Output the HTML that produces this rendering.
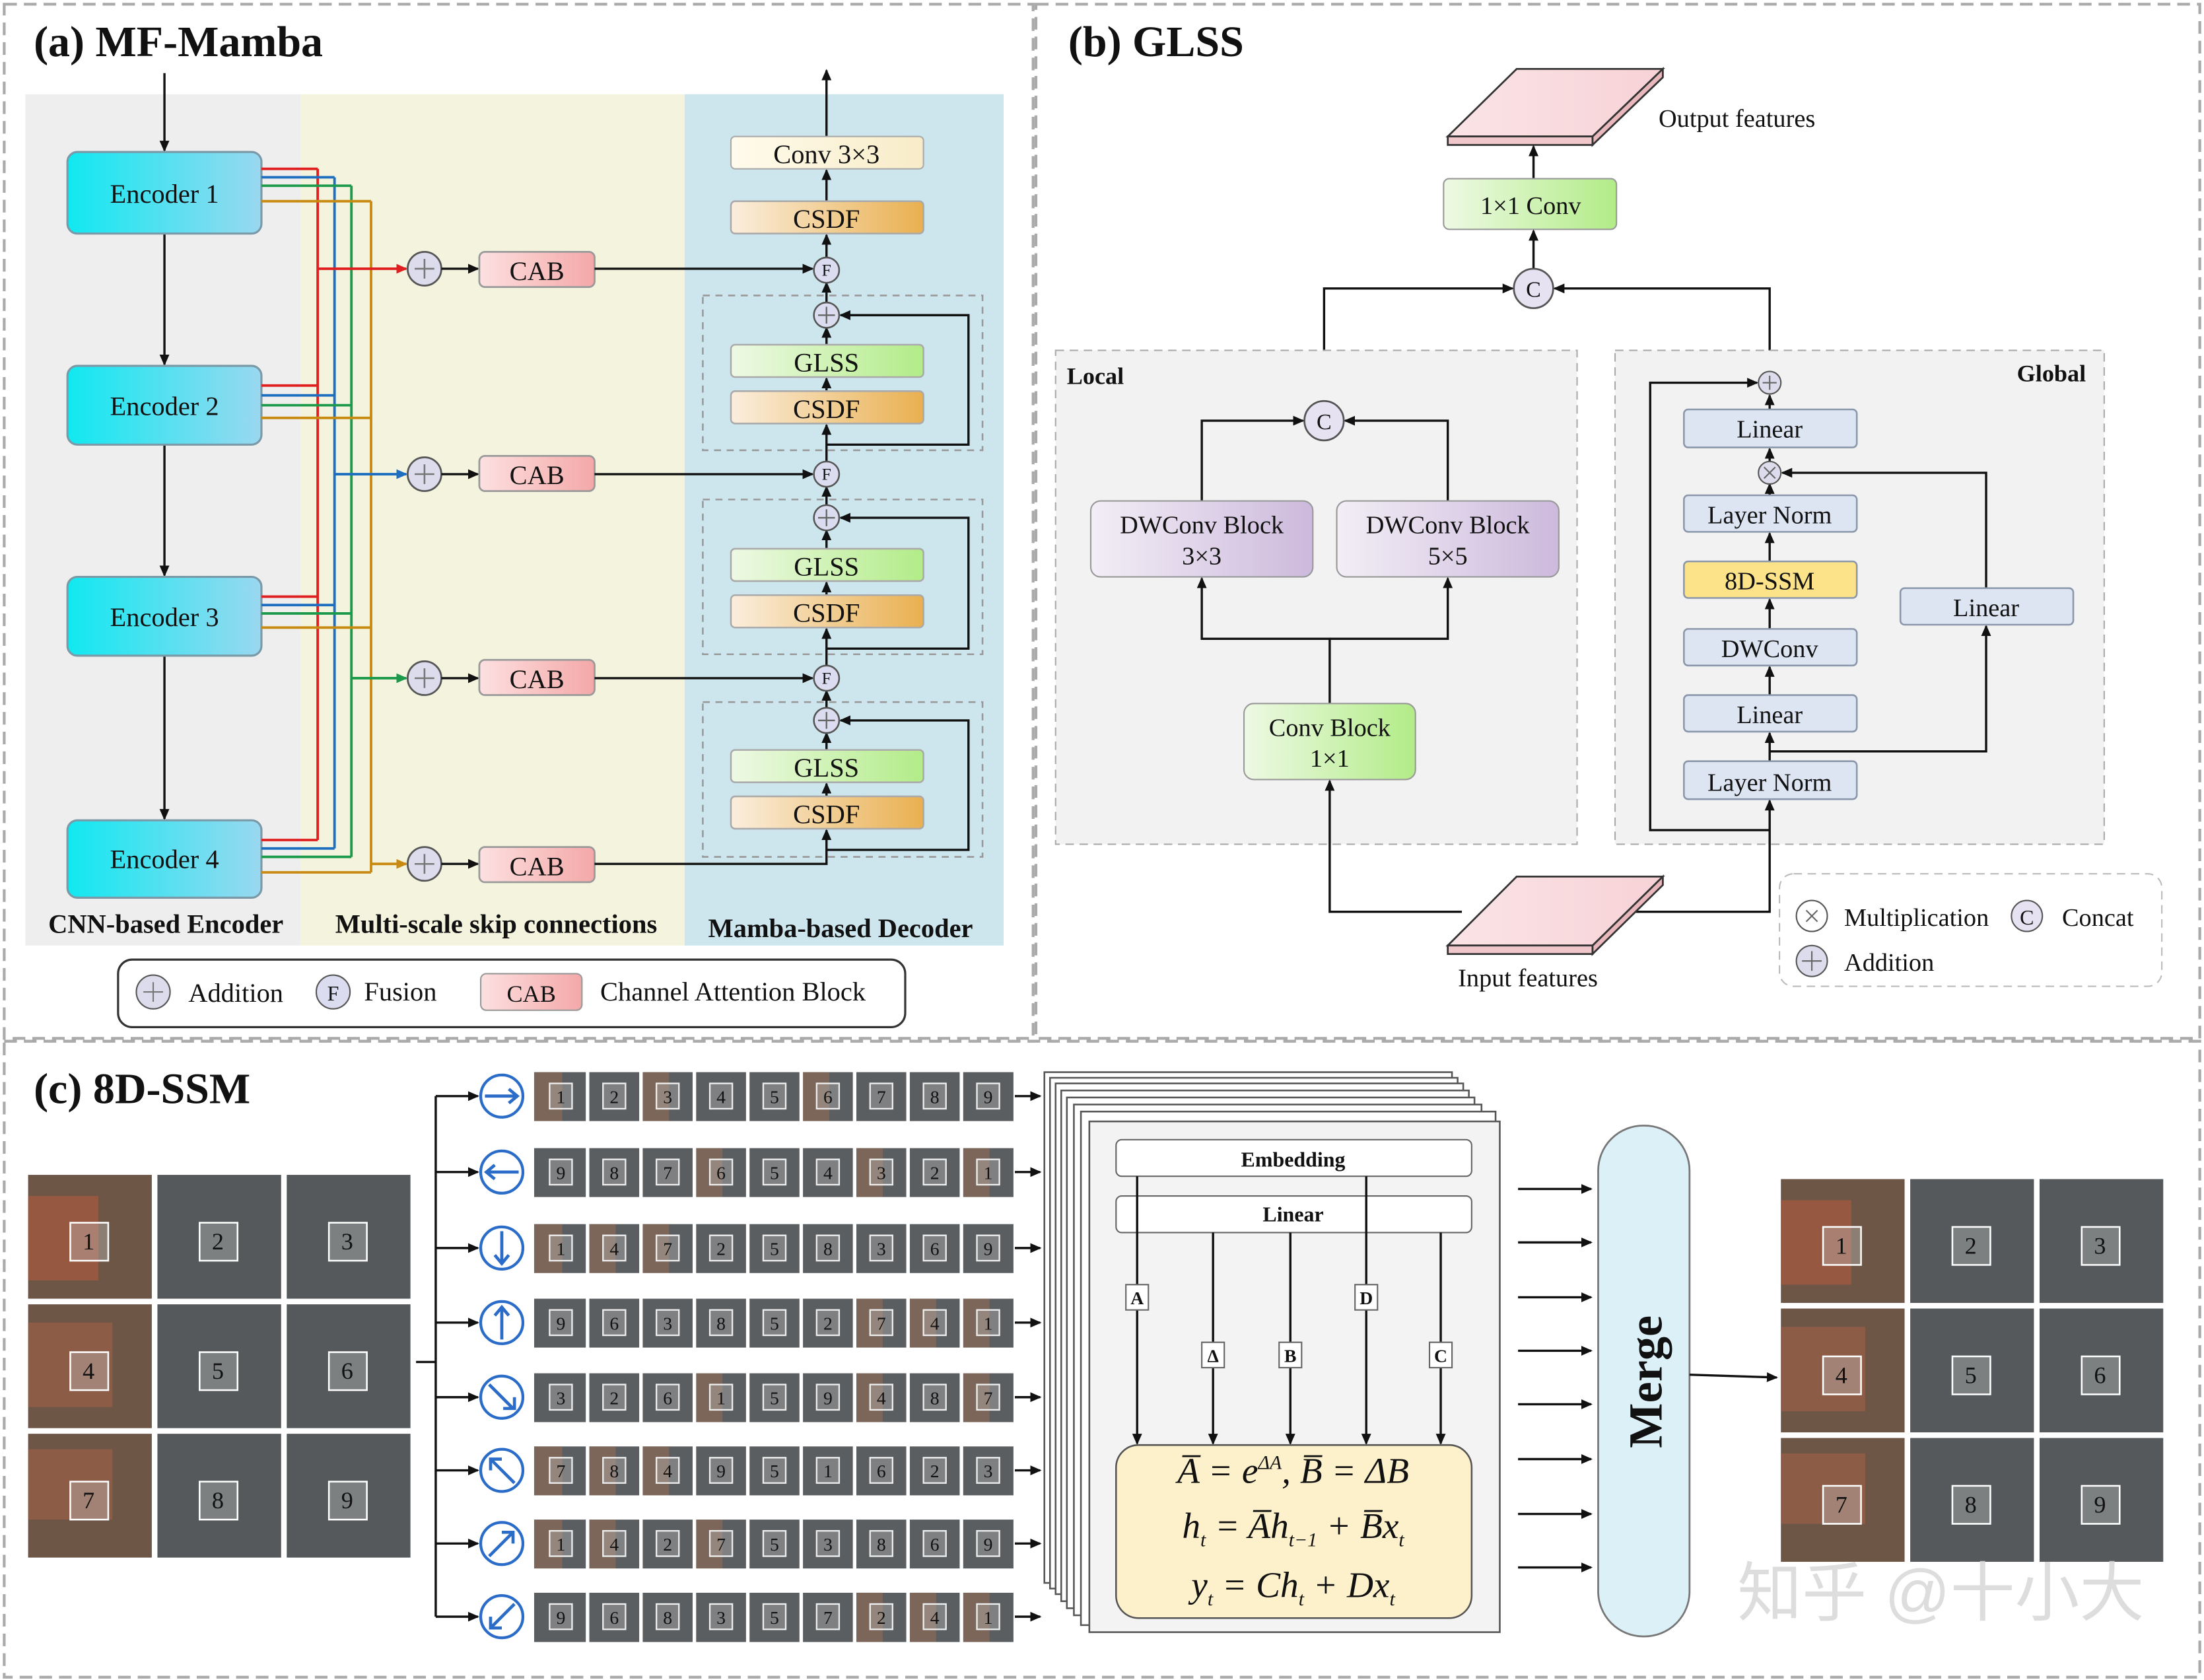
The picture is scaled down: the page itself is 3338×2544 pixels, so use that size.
<!DOCTYPE html>
<html><head><meta charset="utf-8"><style>
html,body{margin:0;padding:0;background:#fff}
svg{display:block}
text{font-family:"Liberation Serif",serif;fill:#111}
.b{font-weight:bold}
.tb{fill:#6e5647}.tg{fill:#55595b}
.nb{fill:rgba(200,200,200,.35);stroke:#fff;stroke-width:1.2}
.ln{stroke:#111;stroke-width:1.6;fill:none}
</style></head><body>
<svg width="3338" height="2544" viewBox="0 0 1568 1194" preserveAspectRatio="none" xmlns="http://www.w3.org/2000/svg">
<defs>
<marker id="ar" markerWidth="8" markerHeight="8" refX="7" refY="4" orient="auto" markerUnits="userSpaceOnUse"><path d="M0,0.5 L8,4 L0,7.5z" fill="#111"/></marker>
<marker id="arR" markerWidth="8" markerHeight="8" refX="7" refY="4" orient="auto" markerUnits="userSpaceOnUse"><path d="M0,0.5 L8,4 L0,7.5z" fill="#e02020"/></marker>
<marker id="arB" markerWidth="8" markerHeight="8" refX="7" refY="4" orient="auto" markerUnits="userSpaceOnUse"><path d="M0,0.5 L8,4 L0,7.5z" fill="#1f6fc0"/></marker>
<marker id="arG" markerWidth="8" markerHeight="8" refX="7" refY="4" orient="auto" markerUnits="userSpaceOnUse"><path d="M0,0.5 L8,4 L0,7.5z" fill="#1a9a4a"/></marker>
<marker id="arO" markerWidth="8" markerHeight="8" refX="7" refY="4" orient="auto" markerUnits="userSpaceOnUse"><path d="M0,0.5 L8,4 L0,7.5z" fill="#c88a10"/></marker>
<linearGradient id="enc" x1="0" x2="1"><stop offset="0" stop-color="#10e8f0"/><stop offset="1" stop-color="#9ad8f0"/></linearGradient>
<linearGradient id="cab" x1="0" x2="1"><stop offset="0" stop-color="#fde0e0"/><stop offset="1" stop-color="#f4a8a8"/></linearGradient>
<linearGradient id="csdf" x1="0" x2="1"><stop offset="0" stop-color="#fbeedd"/><stop offset="1" stop-color="#e9b050"/></linearGradient>
<linearGradient id="glss" x1="0" x2="1"><stop offset="0" stop-color="#eef9e4"/><stop offset="1" stop-color="#b2ec88"/></linearGradient>
<linearGradient id="conv" x1="0" x2="1"><stop offset="0" stop-color="#fffbec"/><stop offset="1" stop-color="#f8ecc8"/></linearGradient>
<linearGradient id="dw" x1="0" x2="1"><stop offset="0" stop-color="#f2eef6"/><stop offset="1" stop-color="#cdb9dc"/></linearGradient>
<linearGradient id="slab" x1="0" x2="1"><stop offset="0" stop-color="#fbe4e6"/><stop offset="1" stop-color="#f7d2d6"/></linearGradient>
<g id="nrow" fill="rgba(210,210,210,.3)" stroke="#eee" stroke-width="1.1">
<rect x="391" y="0" width="16" height="18"/><rect x="429" y="0" width="16" height="18"/><rect x="467" y="0" width="16" height="18"/>
<rect x="505" y="0" width="16" height="18"/><rect x="543" y="0" width="16" height="18"/><rect x="581" y="0" width="16" height="18"/>
<rect x="619" y="0" width="16" height="18"/><rect x="657" y="0" width="16" height="18"/><rect x="695" y="0" width="16" height="18"/>
</g>
</defs>

<!-- panel borders -->
<g fill="none" stroke="#aaa" stroke-width="2" stroke-dasharray="9,5">
<rect x="3" y="3" width="732" height="735"/>
<rect x="737" y="3" width="828" height="735"/>
<rect x="3" y="740" width="1562" height="452"/>
</g>

<!-- ===== (a) ===== -->
<text x="24" y="40" font-size="31" class="b">(a) MF-Mamba</text>
<rect x="18" y="67" width="196" height="605" fill="#eeeeee"/>
<rect x="214" y="67" width="273" height="605" fill="#f4f4de"/>
<rect x="487" y="67" width="227" height="605" fill="#cde6ee"/>

<line x1="117" y1="52" x2="117" y2="107" class="ln" marker-end="url(#ar)"/>
<line x1="117" y1="166" x2="117" y2="259" class="ln" marker-end="url(#ar)"/>
<line x1="117" y1="316" x2="117" y2="409" class="ln" marker-end="url(#ar)"/>
<line x1="117" y1="466" x2="117" y2="582" class="ln" marker-end="url(#ar)"/>
<g stroke="#7a9aa8" stroke-width="1.5" fill="url(#enc)">
<rect x="48" y="108" width="138" height="58" rx="7"/>
<rect x="48" y="260" width="138" height="56" rx="7"/>
<rect x="48" y="410" width="138" height="56" rx="7"/>
<rect x="48" y="583" width="138" height="55" rx="7"/>
</g>
<g font-size="19" text-anchor="middle">
<text x="117" y="144">Encoder 1</text><text x="117" y="295">Encoder 2</text>
<text x="117" y="445">Encoder 3</text><text x="117" y="617">Encoder 4</text>
</g>
<g fill="none" stroke-width="1.8">
<path stroke="#e02020" d="M186,120H226M186,274H226M186,424H226M186,597H226M226,120V597"/>
<path stroke="#1f6fc0" d="M186,126H238M186,281H238M186,430H238M186,603H238M238,126V603"/>
<path stroke="#1a9a4a" d="M186,132H250M186,288H250M186,436H250M186,609H250M250,132V609"/>
<path stroke="#c88a10" d="M186,143H264M186,297H264M186,446H264M186,620H264M264,143V620"/>
<line x1="226" y1="191" x2="289" y2="191" stroke="#e02020" marker-end="url(#arR)"/>
<line x1="238" y1="337" x2="289" y2="337" stroke="#1f6fc0" marker-end="url(#arB)"/>
<line x1="250" y1="482" x2="289" y2="482" stroke="#1a9a4a" marker-end="url(#arG)"/>
<line x1="264" y1="614" x2="289" y2="614" stroke="#c88a10" marker-end="url(#arO)"/>
</g>
<g>
<g stroke="#555" stroke-width="1.3" fill="#dcdcec">
<circle cx="302" cy="191" r="12"/><circle cx="302" cy="337" r="12"/><circle cx="302" cy="482" r="12"/><circle cx="302" cy="614" r="12"/>
</g>
<g stroke="#777" stroke-width="1.2"><path d="M295,191h14M302,184v14M295,337h14M302,330v14M295,482h14M302,475v14M295,614h14M302,607v14"/></g>
<line x1="314" y1="191" x2="340" y2="191" class="ln" marker-end="url(#ar)"/>
<line x1="314" y1="337" x2="340" y2="337" class="ln" marker-end="url(#ar)"/>
<line x1="314" y1="482" x2="340" y2="482" class="ln" marker-end="url(#ar)"/>
<line x1="314" y1="614" x2="340" y2="614" class="ln" marker-end="url(#ar)"/>
<g fill="url(#cab)" stroke="#999" stroke-width="1.3">
<rect x="341" y="179" width="82" height="25" rx="4"/><rect x="341" y="324" width="82" height="25" rx="4"/>
<rect x="341" y="469" width="82" height="25" rx="4"/><rect x="341" y="602" width="82" height="25" rx="4"/>
</g>
<g font-size="19" text-anchor="middle"><text x="382" y="199">CAB</text><text x="382" y="344">CAB</text><text x="382" y="489">CAB</text><text x="382" y="622">CAB</text></g>
<line x1="423" y1="191" x2="578" y2="191" class="ln" marker-end="url(#ar)"/>
<line x1="423" y1="337" x2="578" y2="337" class="ln" marker-end="url(#ar)"/>
<line x1="423" y1="482" x2="578" y2="482" class="ln" marker-end="url(#ar)"/>
<path d="M423,614H588V590" class="ln" marker-end="url(#ar)"/>
</g>
<g fill="none" stroke="#999" stroke-width="1.2" stroke-dasharray="5,4">
<rect x="500" y="210" width="199" height="110"/><rect x="500" y="355" width="199" height="110"/><rect x="500" y="499" width="199" height="110"/>
</g>
<g class="ln">
<line x1="588" y1="97" x2="588" y2="50" class="ln" marker-end="url(#ar)"/>
<line x1="588" y1="143" x2="588" y2="121" class="ln" marker-end="url(#ar)"/>
<line x1="588" y1="183" x2="588" y2="167" class="ln" marker-end="url(#ar)"/>
<line x1="588" y1="215" x2="588" y2="201" class="ln" marker-end="url(#ar)"/>
<line x1="588" y1="245" x2="588" y2="233" class="ln" marker-end="url(#ar)"/>
<line x1="588" y1="278" x2="588" y2="269" class="ln" marker-end="url(#ar)"/>
<line x1="588" y1="328" x2="588" y2="302" class="ln" marker-end="url(#ar)"/>
<line x1="588" y1="359" x2="588" y2="346" class="ln" marker-end="url(#ar)"/>
<line x1="588" y1="390" x2="588" y2="377" class="ln" marker-end="url(#ar)"/>
<line x1="588" y1="423" x2="588" y2="414" class="ln" marker-end="url(#ar)"/>
<line x1="588" y1="473" x2="588" y2="447" class="ln" marker-end="url(#ar)"/>
<line x1="588" y1="503" x2="588" y2="491" class="ln" marker-end="url(#ar)"/>
<line x1="588" y1="533" x2="588" y2="521" class="ln" marker-end="url(#ar)"/>
<line x1="588" y1="566" x2="588" y2="557" class="ln" marker-end="url(#ar)"/>
<path d="M588,316H689V224H598" class="ln" marker-end="url(#ar)"/>
<path d="M588,461H689V368H598" class="ln" marker-end="url(#ar)"/>
<path d="M588,604H689V512H598" class="ln" marker-end="url(#ar)"/>
</g>
<rect x="520" y="97" width="137" height="23" rx="3" fill="url(#conv)" stroke="#aaa"/>
<text x="588" y="116" font-size="19" text-anchor="middle">Conv 3×3</text>
<g stroke="#aaa" stroke-width="1.2">
<rect x="520" y="143" width="137" height="23" rx="3" fill="url(#csdf)"/>
<rect x="520" y="245" width="137" height="23" rx="3" fill="url(#glss)"/>
<rect x="520" y="278" width="137" height="23" rx="3" fill="url(#csdf)"/>
<rect x="520" y="390" width="137" height="23" rx="3" fill="url(#glss)"/>
<rect x="520" y="423" width="137" height="23" rx="3" fill="url(#csdf)"/>
<rect x="520" y="533" width="137" height="23" rx="3" fill="url(#glss)"/>
<rect x="520" y="566" width="137" height="23" rx="3" fill="url(#csdf)"/>
</g>
<g font-size="19" text-anchor="middle">
<text x="588" y="162">CSDF</text><text x="588" y="264">GLSS</text><text x="588" y="297">CSDF</text>
<text x="588" y="409">GLSS</text><text x="588" y="442">CSDF</text><text x="588" y="552">GLSS</text><text x="588" y="585">CSDF</text>
</g>
<g stroke="#555" stroke-width="1.2" fill="#dcdcf0">
<circle cx="588" cy="192" r="9"/><circle cx="588" cy="337" r="9"/><circle cx="588" cy="482" r="9"/>
<circle cx="588" cy="224" r="9"/><circle cx="588" cy="368" r="9"/><circle cx="588" cy="512" r="9"/>
</g>
<g stroke="#666" stroke-width="1.1"><path d="M582,224h12M588,218v12M582,368h12M588,362v12M582,512h12M588,506v12"/></g>
<g font-size="12" text-anchor="middle" fill="#555"><text x="588" y="196">F</text><text x="588" y="341">F</text><text x="588" y="486">F</text></g>
<g font-size="19" class="b" text-anchor="middle">
<text x="118" y="663" class="b">CNN-based Encoder</text>
<text x="353" y="663" class="b">Multi-scale skip connections</text>
<text x="598" y="666" class="b">Mamba-based Decoder</text>
</g>
<rect x="84" y="682" width="560" height="48" rx="10" fill="#fff" stroke="#333" stroke-width="1.5"/>
<circle cx="109" cy="705" r="12" fill="#dcdcec" stroke="#555"/><path d="M102,705h14M109,698v14" stroke="#777"/>
<text x="134" y="712" font-size="19">Addition</text>
<circle cx="237" cy="705" r="12" fill="#dcdcf0" stroke="#555"/><text x="237" y="711" font-size="15" text-anchor="middle" fill="#555">F</text>
<text x="259" y="711" font-size="19">Fusion</text>
<rect x="342" y="692" width="72" height="26" rx="4" fill="url(#cab)" stroke="#999"/>
<text x="378" y="712" font-size="17" text-anchor="middle">CAB</text>
<text x="427" y="711" font-size="19">Channel Attention Block</text>

<!-- ===== (b) ===== -->
<text x="760" y="40" font-size="31" class="b">(b) GLSS</text>
<polygon points="1079,49 1183,49 1133,97 1030,97" fill="url(#slab)" stroke="#333" stroke-width="1.3"/>
<polygon points="1030,97 1133,97 1133,103 1030,103" fill="#f0c8cc" stroke="#333" stroke-width="1.3"/>
<polygon points="1133,97 1183,49 1183,55 1133,103" fill="#e8b8bc" stroke="#333" stroke-width="1.3"/>
<text x="1180" y="90" font-size="18">Output features</text>
<line x1="1091" y1="127" x2="1091" y2="104" class="ln" marker-end="url(#ar)"/>
<rect x="1027" y="127" width="123" height="36" rx="4" fill="url(#glss)" stroke="#999"/>
<text x="1089" y="152" font-size="18" text-anchor="middle">1×1 Conv</text>
<line x1="1091" y1="191" x2="1091" y2="164" class="ln" marker-end="url(#ar)"/>
<circle cx="1091" cy="205" r="14" fill="#e6e2f2" stroke="#555" stroke-width="1.3"/>
<text x="1091" y="211" font-size="16" text-anchor="middle" fill="#666">C</text>
<path d="M942,285V205H1076" class="ln" marker-end="url(#ar)"/>
<path d="M1259,264V205H1106" class="ln" marker-end="url(#ar)"/>
<rect x="751" y="249" width="371" height="351" fill="#f2f2f2" stroke="#aaa" stroke-dasharray="6,4"/>
<rect x="1149" y="249" width="348" height="351" fill="#f2f2f2" stroke="#aaa" stroke-dasharray="6,4"/>
<text x="759" y="273" font-size="17" class="b">Local</text>
<text x="1484" y="271" font-size="17" class="b" text-anchor="end">Global</text>
<circle cx="942" cy="299" r="14" fill="#e6e2f2" stroke="#555" stroke-width="1.3"/>
<text x="942" y="305" font-size="16" text-anchor="middle" fill="#666">C</text>
<path d="M855,356V299H927" class="ln" marker-end="url(#ar)"/>
<path d="M1030,356V299H957" class="ln" marker-end="url(#ar)"/>
<rect x="776" y="356" width="158" height="54" rx="7" fill="url(#dw)" stroke="#999"/>
<rect x="951" y="356" width="158" height="54" rx="7" fill="url(#dw)" stroke="#999"/>
<g font-size="18" text-anchor="middle">
<text x="855" y="379">DWConv Block</text><text x="855" y="401">3×3</text>
<text x="1030" y="379">DWConv Block</text><text x="1030" y="401">5×5</text>
</g>
<path d="M946,500V454H855V411" class="ln" marker-end="url(#ar)"/>
<path d="M946,454H1030V411" class="ln" marker-end="url(#ar)"/>
<rect x="885" y="500" width="122" height="54" rx="7" fill="url(#glss)" stroke="#999"/>
<text x="946" y="523" font-size="18" text-anchor="middle">Conv Block</text>
<text x="946" y="545" font-size="18" text-anchor="middle">1×1</text>
<path d="M1040,648H946V555" class="ln" marker-end="url(#ar)"/>
<path d="M1150,648H1259V569" class="ln" marker-end="url(#ar)"/>
<polygon points="1079,623 1183,623 1133,672 1030,672" fill="url(#slab)" stroke="#333" stroke-width="1.3"/>
<polygon points="1030,672 1133,672 1133,678 1030,678" fill="#f0c8cc" stroke="#333" stroke-width="1.3"/>
<polygon points="1133,672 1183,623 1183,629 1133,678" fill="#e8b8bc" stroke="#333" stroke-width="1.3"/>
<text x="1087" y="701" font-size="18" text-anchor="middle">Input features</text>
<path d="M1259,590H1174V272H1250" class="ln" marker-end="url(#ar)"/>
<path d="M1259,534H1413V445" class="ln" marker-end="url(#ar)"/>
<path d="M1413,418V336H1268" class="ln" marker-end="url(#ar)"/>
<line x1="1259" y1="541" x2="1259" y2="521" class="ln" marker-end="url(#ar)"/>
<line x1="1259" y1="494" x2="1259" y2="474" class="ln" marker-end="url(#ar)"/>
<line x1="1259" y1="447" x2="1259" y2="426" class="ln" marker-end="url(#ar)"/>
<line x1="1259" y1="399" x2="1259" y2="379" class="ln" marker-end="url(#ar)"/>
<line x1="1259" y1="352" x2="1259" y2="344" class="ln" marker-end="url(#ar)"/>
<line x1="1259" y1="328" x2="1259" y2="319" class="ln" marker-end="url(#ar)"/>
<line x1="1259" y1="291" x2="1259" y2="281" class="ln" marker-end="url(#ar)"/>
<g stroke="#8a96aa" stroke-width="1.2" fill="#dde5f3">
<rect x="1198" y="291" width="123" height="27" rx="3"/>
<rect x="1198" y="352" width="123" height="26" rx="3"/>
<rect x="1198" y="399" width="123" height="26" rx="3" fill="#fce38a"/>
<rect x="1198" y="447" width="123" height="26" rx="3"/>
<rect x="1198" y="494" width="123" height="26" rx="3"/>
<rect x="1198" y="541" width="123" height="27" rx="3"/>
<rect x="1352" y="418" width="123" height="26" rx="3"/>
</g>
<g font-size="18" text-anchor="middle">
<text x="1259" y="311">Linear</text><text x="1259" y="372">Layer Norm</text><text x="1259" y="419">8D-SSM</text>
<text x="1259" y="467">DWConv</text><text x="1259" y="514">Linear</text><text x="1259" y="562">Layer Norm</text>
<text x="1413" y="438">Linear</text>
</g>
<circle cx="1259" cy="272" r="8" fill="#dcdcec" stroke="#555"/><path d="M1254,272h10M1259,267v10" stroke="#666"/>
<circle cx="1259" cy="336" r="8" fill="#dcdcec" stroke="#555"/><path d="M1255,332l8,8M1263,332l-8,8" stroke="#666"/>
<rect x="1266" y="621" width="272" height="80" rx="10" fill="#fff" stroke="#bbb" stroke-dasharray="6,4"/>
<circle cx="1289" cy="651" r="11" fill="#fff" stroke="#555"/><path d="M1285,647l8,8M1293,647l-8,8" stroke="#666"/>
<text x="1312" y="658" font-size="18">Multiplication</text>
<circle cx="1442" cy="651" r="11" fill="#e6e2f2" stroke="#555"/><text x="1442" y="657" font-size="15" text-anchor="middle" fill="#666">C</text>
<text x="1467" y="658" font-size="18">Concat</text>
<circle cx="1289" cy="683" r="11" fill="#dcdcec" stroke="#555"/><path d="M1282,683h14M1289,676v14" stroke="#666"/>
<text x="1312" y="690" font-size="18">Addition</text>

<!-- ===== (c) ===== -->
<text x="24" y="784" font-size="31" class="b">(c) 8D-SSM</text>
<g>
<rect x="20" y="835" width="88" height="88" class="tb"/><rect x="112" y="835" width="88" height="88" class="tg"/><rect x="204" y="835" width="88" height="88" class="tg"/>
<rect x="20" y="927" width="88" height="88" class="tb"/><rect x="112" y="927" width="88" height="88" class="tg"/><rect x="204" y="927" width="88" height="88" class="tg"/>
<rect x="20" y="1019" width="88" height="88" class="tb"/><rect x="112" y="1019" width="88" height="88" class="tg"/><rect x="204" y="1019" width="88" height="88" class="tg"/>
<rect x="20" y="850" width="50" height="60" fill="#a85a40" opacity=".7"/><rect x="20" y="940" width="60" height="60" fill="#a06048" opacity=".6"/><rect x="20" y="1030" width="60" height="50" fill="#a06048" opacity=".6"/>
<g class="nb">
<rect x="50" y="869" width="27" height="27"/><rect x="142" y="869" width="27" height="27"/><rect x="234" y="869" width="27" height="27"/>
<rect x="50" y="961" width="27" height="27"/><rect x="142" y="961" width="27" height="27"/><rect x="234" y="961" width="27" height="27"/>
<rect x="50" y="1053" width="27" height="27"/><rect x="142" y="1053" width="27" height="27"/><rect x="234" y="1053" width="27" height="27"/>
</g>
<g font-size="17" text-anchor="middle">
<text x="63" y="888">1</text><text x="155" y="888">2</text><text x="247" y="888">3</text>
<text x="63" y="980">4</text><text x="155" y="980">5</text><text x="247" y="980">6</text>
<text x="63" y="1072">7</text><text x="155" y="1072">8</text><text x="247" y="1072">9</text>
</g>
</g>
<path d="M296,968H310M310,779V1149" class="ln"/>
<g class="ln">
<line x1="310" y1="779" x2="340" y2="779" marker-end="url(#ar)"/><line x1="310" y1="833" x2="340" y2="833" marker-end="url(#ar)"/>
<line x1="310" y1="887" x2="340" y2="887" marker-end="url(#ar)"/><line x1="310" y1="940" x2="340" y2="940" marker-end="url(#ar)"/>
<line x1="310" y1="993" x2="340" y2="993" marker-end="url(#ar)"/><line x1="310" y1="1045" x2="340" y2="1045" marker-end="url(#ar)"/>
<line x1="310" y1="1097" x2="340" y2="1097" marker-end="url(#ar)"/><line x1="310" y1="1149" x2="340" y2="1149" marker-end="url(#ar)"/>
</g>
<g fill="#fff" stroke="#2a6cc8" stroke-width="2">
<circle cx="357" cy="779" r="15"/><circle cx="357" cy="833" r="15"/><circle cx="357" cy="887" r="15"/><circle cx="357" cy="940" r="15"/>
<circle cx="357" cy="993" r="15"/><circle cx="357" cy="1045" r="15"/><circle cx="357" cy="1097" r="15"/><circle cx="357" cy="1149" r="15"/>
</g>
<g stroke="#2a6cc8" stroke-width="2.2" fill="none">
<path d="M345,779H367M362,774l6,5l-6,5"/><path d="M369,833H347M352,828l-6,5l6,5"/>
<path d="M357,875V897M352,892l5,6l5,-6"/><path d="M357,952V930M352,935l5,-6l5,6"/>
<path d="M348,984L365,1001M358,1001h8v-8"/><path d="M366,1054L349,1037M349,1045v-8h8"/>
<path d="M348,1106L365,1089M357,1089h8v8"/><path d="M366,1140L349,1157M349,1149v8h8"/>
</g>
<g>
<rect x="380" y="762" width="341" height="35" fill="#5b5e60"/><rect x="380" y="816" width="341" height="35" fill="#5b5e60"/>
<rect x="380" y="870" width="341" height="35" fill="#5b5e60"/><rect x="380" y="923" width="341" height="35" fill="#5b5e60"/>
<rect x="380" y="976" width="341" height="35" fill="#5b5e60"/><rect x="380" y="1028" width="341" height="35" fill="#5b5e60"/>
<rect x="380" y="1080" width="341" height="35" fill="#5b5e60"/><rect x="380" y="1132" width="341" height="35" fill="#5b5e60"/>
</g>
<g fill="#8a6a58" opacity=".7">
<rect x="380" y="762" width="20" height="35"/><rect x="456" y="762" width="20" height="35"/><rect x="570" y="762" width="20" height="35"/>
<rect x="608" y="816" width="20" height="35"/><rect x="494" y="816" width="20" height="35"/><rect x="684" y="816" width="20" height="35"/>
<rect x="380" y="870" width="20" height="35"/><rect x="418" y="870" width="20" height="35"/><rect x="456" y="870" width="20" height="35"/>
<rect x="608" y="923" width="20" height="35"/><rect x="646" y="923" width="20" height="35"/><rect x="684" y="923" width="20" height="35"/>
<rect x="494" y="976" width="20" height="35"/><rect x="608" y="976" width="20" height="35"/><rect x="684" y="976" width="20" height="35"/>
<rect x="380" y="1028" width="20" height="35"/><rect x="418" y="1028" width="20" height="35"/><rect x="456" y="1028" width="20" height="35"/>
<rect x="380" y="1080" width="20" height="35"/><rect x="418" y="1080" width="20" height="35"/><rect x="494" y="1080" width="20" height="35"/>
<rect x="608" y="1132" width="20" height="35"/><rect x="646" y="1132" width="20" height="35"/><rect x="684" y="1132" width="20" height="35"/>
</g>
<g stroke="#fff" stroke-width="2.5">
<path d="M418,760V1170M456,760V1170M494,760V1170M532,760V1170M570,760V1170M608,760V1170M646,760V1170M684,760V1170"/>
<path d="M378,798H722M378,852H722M378,906H722M378,959H722M378,1012H722M378,1064H722M378,1116H722"/>
</g>
<use href="#nrow" y="770"/><use href="#nrow" y="824"/><use href="#nrow" y="878"/><use href="#nrow" y="931"/>
<use href="#nrow" y="984"/><use href="#nrow" y="1036"/><use href="#nrow" y="1088"/><use href="#nrow" y="1140"/>
<g font-size="13" text-anchor="middle">
<g transform="translate(0,784)"><text x="399">1</text><text x="437">2</text><text x="475">3</text><text x="513">4</text><text x="551">5</text><text x="589">6</text><text x="627">7</text><text x="665">8</text><text x="703">9</text></g>
<g transform="translate(0,838)"><text x="399">9</text><text x="437">8</text><text x="475">7</text><text x="513">6</text><text x="551">5</text><text x="589">4</text><text x="627">3</text><text x="665">2</text><text x="703">1</text></g>
<g transform="translate(0,892)"><text x="399">1</text><text x="437">4</text><text x="475">7</text><text x="513">2</text><text x="551">5</text><text x="589">8</text><text x="627">3</text><text x="665">6</text><text x="703">9</text></g>
<g transform="translate(0,945)"><text x="399">9</text><text x="437">6</text><text x="475">3</text><text x="513">8</text><text x="551">5</text><text x="589">2</text><text x="627">7</text><text x="665">4</text><text x="703">1</text></g>
<g transform="translate(0,998)"><text x="399">3</text><text x="437">2</text><text x="475">6</text><text x="513">1</text><text x="551">5</text><text x="589">9</text><text x="627">4</text><text x="665">8</text><text x="703">7</text></g>
<g transform="translate(0,1050)"><text x="399">7</text><text x="437">8</text><text x="475">4</text><text x="513">9</text><text x="551">5</text><text x="589">1</text><text x="627">6</text><text x="665">2</text><text x="703">3</text></g>
<g transform="translate(0,1102)"><text x="399">1</text><text x="437">4</text><text x="475">2</text><text x="513">7</text><text x="551">5</text><text x="589">3</text><text x="627">8</text><text x="665">6</text><text x="703">9</text></g>
<g transform="translate(0,1154)"><text x="399">9</text><text x="437">6</text><text x="475">8</text><text x="513">3</text><text x="551">5</text><text x="589">7</text><text x="627">2</text><text x="665">4</text><text x="703">1</text></g>
</g>
<g class="ln">
<line x1="722" y1="779" x2="740" y2="779" marker-end="url(#ar)"/><line x1="722" y1="833" x2="740" y2="833" marker-end="url(#ar)"/>
<line x1="722" y1="887" x2="740" y2="887" marker-end="url(#ar)"/><line x1="722" y1="940" x2="740" y2="940" marker-end="url(#ar)"/>
<line x1="722" y1="993" x2="740" y2="993" marker-end="url(#ar)"/><line x1="722" y1="1045" x2="740" y2="1045" marker-end="url(#ar)"/>
<line x1="722" y1="1097" x2="740" y2="1097" marker-end="url(#ar)"/><line x1="722" y1="1149" x2="740" y2="1149" marker-end="url(#ar)"/>
</g>
<g fill="#fff" stroke="#555" stroke-width="1.2">
<rect x="743" y="762" width="290" height="363"/><rect x="747" y="766" width="290" height="363"/>
<rect x="751" y="770" width="290" height="363"/><rect x="755" y="775" width="290" height="363"/>
<rect x="759" y="780" width="290" height="363"/><rect x="764" y="785" width="290" height="363"/>
<rect x="769" y="790" width="295" height="365"/>
<rect x="775" y="797" width="292" height="363" fill="#f3f3f3"/>
</g>
<rect x="794" y="810" width="253" height="26" rx="4" fill="#fff" stroke="#666"/>
<text x="920" y="829" font-size="15" class="b" text-anchor="middle">Embedding</text>
<rect x="794" y="850" width="253" height="26" rx="4" fill="#fff" stroke="#666"/>
<text x="920" y="868" font-size="15" class="b" text-anchor="middle">Linear</text>
<g class="ln">
<line x1="809" y1="836" x2="809" y2="1026" marker-end="url(#ar)"/>
<line x1="863" y1="876" x2="863" y2="1026" marker-end="url(#ar)"/>
<line x1="918" y1="876" x2="918" y2="1026" marker-end="url(#ar)"/>
<line x1="972" y1="836" x2="972" y2="1026" marker-end="url(#ar)"/>
<line x1="1025" y1="876" x2="1025" y2="1026" marker-end="url(#ar)"/>
</g>
<g fill="#fff" stroke="#666"><rect x="801" y="913" width="16" height="18"/><rect x="855" y="954" width="16" height="18"/><rect x="910" y="954" width="16" height="18"/><rect x="964" y="913" width="16" height="18"/><rect x="1017" y="954" width="16" height="18"/></g>
<g font-size="13" class="b" text-anchor="middle"><text x="809" y="927">A</text><text x="863" y="968">Δ</text><text x="918" y="968">B</text><text x="972" y="927">D</text><text x="1025" y="968">C</text></g>
<rect x="794" y="1027" width="253" height="123" rx="16" fill="#fdf1cc" stroke="#555" stroke-width="1.2"/>
<g font-size="26" font-style="italic" text-anchor="middle">
<text x="920" y="1054">A̅ = e<tspan font-size="14" dy="-10">ΔA</tspan><tspan dy="10">, B̅ = ΔB</tspan></text>
<text x="920" y="1093">h<tspan font-size="14" dy="6">t</tspan><tspan dy="-6"> = A̅h</tspan><tspan font-size="14" dy="6">t−1</tspan><tspan dy="-6"> + B̅x</tspan><tspan font-size="14" dy="6">t</tspan></text>
<text x="920" y="1135">y<tspan font-size="14" dy="6">t</tspan><tspan dy="-6"> = Ch</tspan><tspan font-size="14" dy="6">t</tspan><tspan dy="-6"> + Dx</tspan><tspan font-size="14" dy="6">t</tspan></text>
</g>
<g class="ln">
<line x1="1080" y1="845" x2="1132" y2="845" marker-end="url(#ar)"/><line x1="1080" y1="883" x2="1132" y2="883" marker-end="url(#ar)"/>
<line x1="1080" y1="922" x2="1132" y2="922" marker-end="url(#ar)"/><line x1="1080" y1="960" x2="1132" y2="960" marker-end="url(#ar)"/>
<line x1="1080" y1="998" x2="1132" y2="998" marker-end="url(#ar)"/><line x1="1080" y1="1037" x2="1132" y2="1037" marker-end="url(#ar)"/>
<line x1="1080" y1="1076" x2="1132" y2="1076" marker-end="url(#ar)"/><line x1="1080" y1="1114" x2="1132" y2="1114" marker-end="url(#ar)"/>
</g>
<rect x="1137" y="800" width="65" height="363" rx="32" fill="#dcf0f8" stroke="#777" stroke-width="1.3"/>
<text transform="translate(1182,982) rotate(-90)" font-size="34" class="b" text-anchor="middle">Merge</text>
<line x1="1202" y1="977" x2="1264" y2="979" class="ln" marker-end="url(#ar)"/>
<g>
<rect x="1267" y="838" width="88" height="88" class="tb"/><rect x="1359" y="838" width="88" height="88" class="tg"/><rect x="1451" y="838" width="88" height="88" class="tg"/>
<rect x="1267" y="930" width="88" height="88" class="tb"/><rect x="1359" y="930" width="88" height="88" class="tg"/><rect x="1451" y="930" width="88" height="88" class="tg"/>
<rect x="1267" y="1022" width="88" height="88" class="tb"/><rect x="1359" y="1022" width="88" height="88" class="tg"/><rect x="1451" y="1022" width="88" height="88" class="tg"/>
<rect x="1267" y="853" width="50" height="60" fill="#a85a40" opacity=".7"/><rect x="1267" y="943" width="60" height="60" fill="#a06048" opacity=".6"/><rect x="1267" y="1033" width="60" height="50" fill="#a06048" opacity=".6"/>
<g class="nb">
<rect x="1297" y="872" width="27" height="27"/><rect x="1389" y="872" width="27" height="27"/><rect x="1481" y="872" width="27" height="27"/>
<rect x="1297" y="964" width="27" height="27"/><rect x="1389" y="964" width="27" height="27"/><rect x="1481" y="964" width="27" height="27"/>
<rect x="1297" y="1056" width="27" height="27"/><rect x="1389" y="1056" width="27" height="27"/><rect x="1481" y="1056" width="27" height="27"/>
</g>
<g font-size="17" text-anchor="middle">
<text x="1310" y="891">1</text><text x="1402" y="891">2</text><text x="1494" y="891">3</text>
<text x="1310" y="983">4</text><text x="1402" y="983">5</text><text x="1494" y="983">6</text>
<text x="1310" y="1075">7</text><text x="1402" y="1075">8</text><text x="1494" y="1075">9</text>
</g>
</g>
<text x="1236" y="1148" font-size="46" style="font-family:'Liberation Sans','Noto Sans CJK SC',sans-serif;fill:#d8d8d8;opacity:.85">知乎 @十小大</text>
</svg>
</body></html>
